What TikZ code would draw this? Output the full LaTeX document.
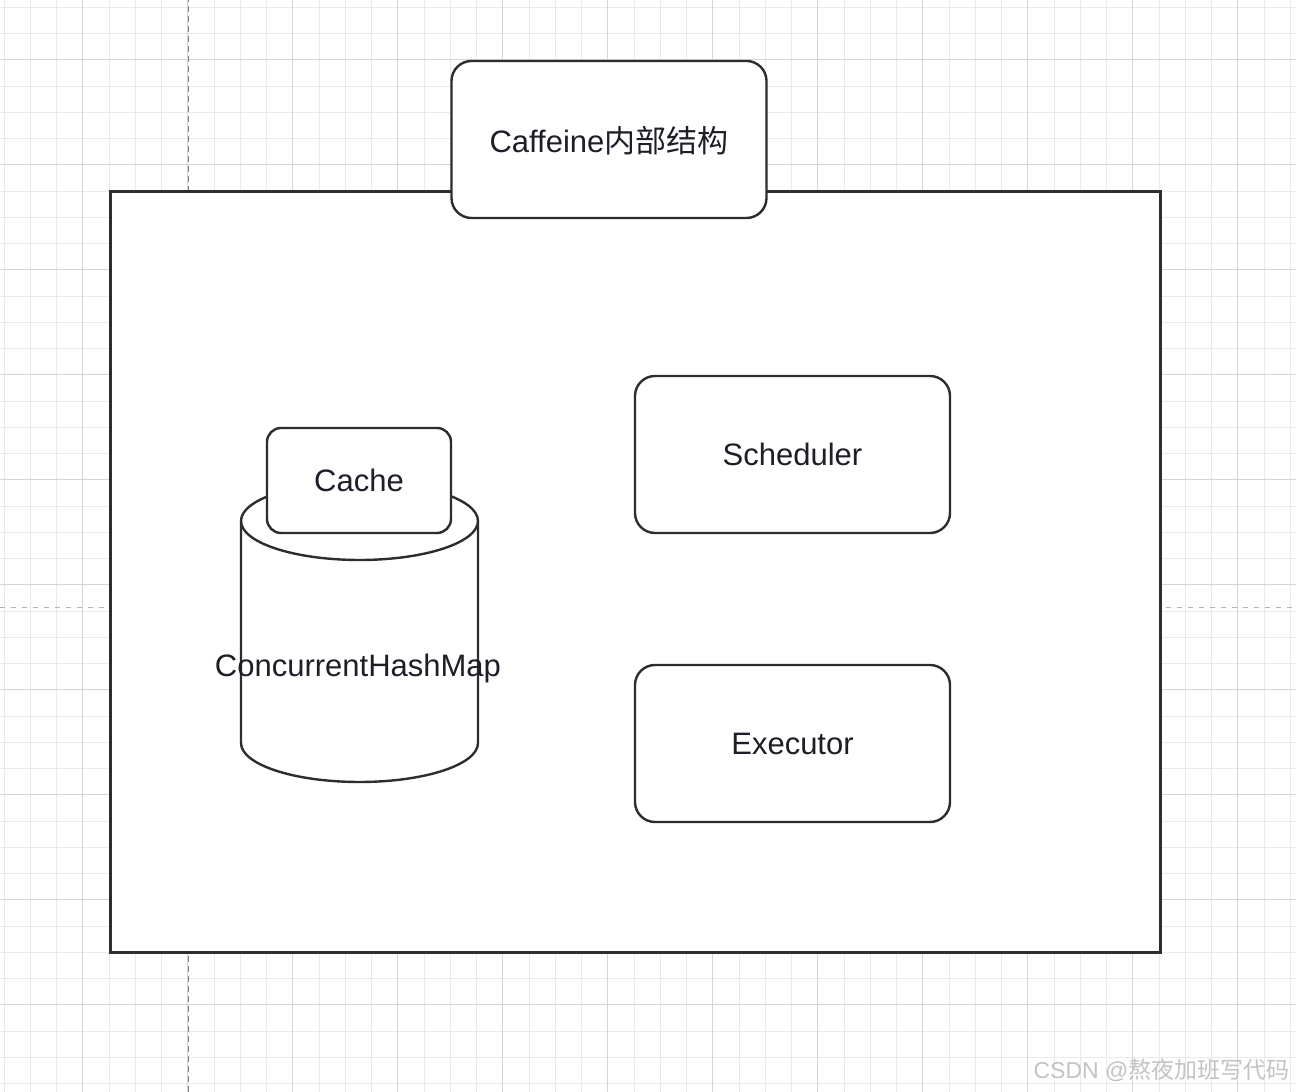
\documentclass[tikz,border=0pt]{standalone}
\usepackage{fontspec}
\setmainfont{Liberation Sans}
\newfontfamily\cjk{Noto Sans CJK SC}
\usetikzlibrary{positioning}
\definecolor{gridminor}{RGB}{234,234,234}
\definecolor{gridmajor}{RGB}{212,212,212}
\definecolor{edge}{RGB}{45,45,45}
\definecolor{ink}{RGB}{30,30,40}
\definecolor{pagebreak}{RGB}{130,130,130}
\definecolor{wmgrey}{RGB}{195,195,195}

\begin{document}
\begin{tikzpicture}[x=1pt,y=1pt,
    every node/.style={font=\fontsize{31}{37}\selectfont,text=ink},
    box/.style={draw=edge,line width=2.4pt,fill=white,rounded corners=20pt,
      minimum width=315pt,minimum height=157pt,text depth=0pt},
    smallbox/.style={draw=edge,line width=2.4pt,fill=white,rounded corners=14pt,
      minimum width=184pt,minimum height=105pt,text depth=0pt}]
      % Canvas and grid
      \fill[white] (0,0) rectangle (1296,1092);
      \useasboundingbox (0,0) rectangle (1296,1092);
      \foreach \k in {0,...,49}
        \draw[gridminor,line width=1pt] (4.2+26.25*\k,0) -- (4.2+26.25*\k,1092);
      \foreach \k in {0,...,41}
        \draw[gridminor,line width=1pt] (0,1084.5-26.25*\k) -- (1296,1084.5-26.25*\k);
      \foreach \m in {0,...,11}
        \draw[gridmajor,line width=1pt] (82.7+105*\m,0) -- (82.7+105*\m,1092);
      \foreach \m in {0,...,10}
        \draw[gridmajor,line width=1pt] (0,1032-105*\m) -- (1296,1032-105*\m);
      % Page breaks
      \draw[pagebreak,line width=1pt,dash pattern=on 6pt off 4pt] (188,0) -- (188,1092);
      \draw[pagebreak!60,line width=1pt,dash pattern=on 5pt off 6pt] (0,484) -- (1296,484);
      % Container
      \draw[edge,line width=3pt,fill=white] (110,139) rectangle (1160,900);
      \node[box] (title) at (609,952.5) {Caffeine{\cjk 内部结构}};
      % ConcurrentHashMap cylinder
      \coordinate (cyltop) at (359.5,571);
      \coordinate (cylbot) at (359.5,349);
      \filldraw[edge,line width=2.4pt,fill=white] ([xshift=-118.5pt]cyltop) -- ([xshift=-118.5pt]cylbot)
        arc[start angle=180,end angle=360,x radius=118.5,y radius=39]
        -- ([xshift=118.5pt]cyltop)
        arc[start angle=0,end angle=180,x radius=118.5,y radius=39] -- cycle;
      \draw[edge,line width=2.4pt] ([xshift=-118.5pt]cyltop)
        arc[start angle=180,end angle=360,x radius=118.5,y radius=39];
      \node (chm) at (358,424) {ConcurrentHashMap};
      \node[smallbox] (cache) at (359,611.5) {Cache};
      % Scheduler and Executor
      \node[box] (sched) at (792.5,637.5) {Scheduler};
      \node[box] (exec) at (792.5,348.5) {Executor};
      % Watermark
      \node[anchor=east,text=wmgrey,font=\fontsize{23}{28}\selectfont] (wm) at (1293,22) {CSDN @{\cjk 熬夜加班写代码}};
    \end{tikzpicture}
\end{document}
